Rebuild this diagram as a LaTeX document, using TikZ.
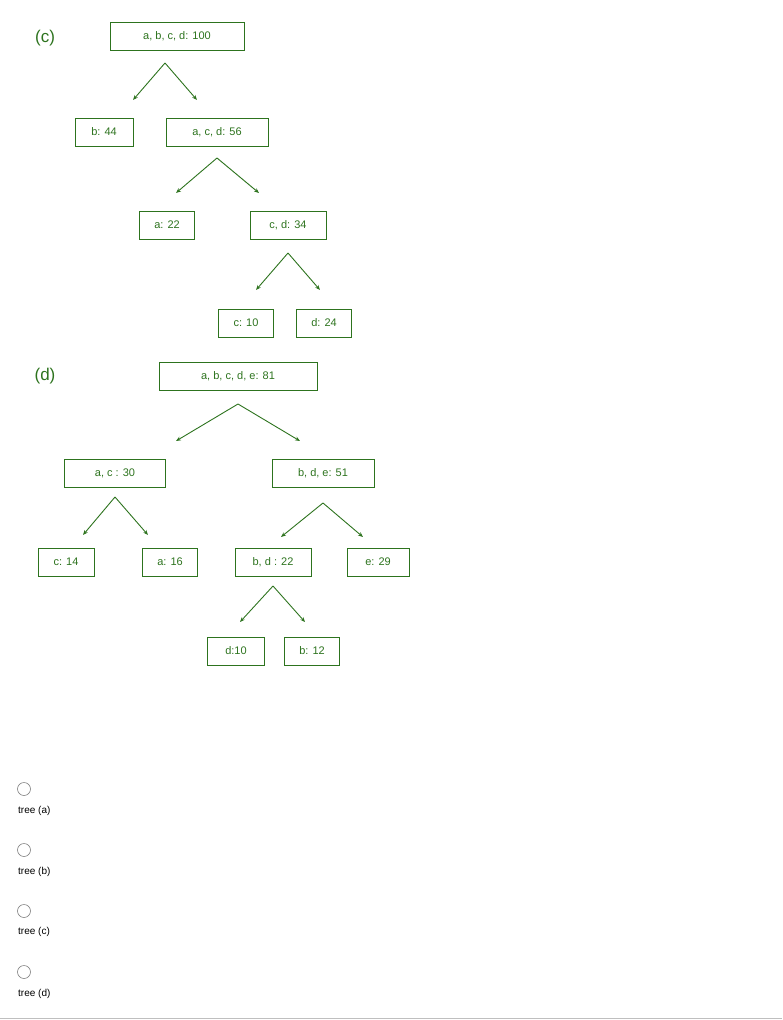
\documentclass[tikz,border=0pt]{standalone}
\usepackage{fontspec}
\setmainfont{Liberation Sans}
\usetikzlibrary{arrows.meta}
\definecolor{tg}{RGB}{45,115,30}
\begin{document}
\begin{tikzpicture}[x=1pt,y=-1pt,
  bx/.style={draw=tg,line width=1pt,text=tg,font=\fontsize{11}{13}\selectfont,minimum height=28pt,inner xsep=5pt},
  ar/.style={draw=tg,line width=0.9pt,-{Stealth[length=5pt,width=4pt]}},
  lab/.style={text=tg,font=\fontsize{17}{20}\selectfont},
  opt/.style={font=\fontsize{10}{12}\selectfont,anchor=west,inner sep=0pt},
  rb/.style={draw=gray,line width=0.6pt,circle,minimum size=13pt,inner sep=0pt}]
\useasboundingbox (0,0) rectangle (782,1020);
\node[lab] (lc) at (45,38) {(c)};
\node[bx,minimum width=134pt] (r1) at (177,36) {a, b, c, d: 100};
\node[bx,minimum width=58pt] (b44) at (104,132) {b: 44};
\node[bx,minimum width=102pt] (acd) at (217,132) {a, c, d: 56};
\node[bx,minimum width=55pt] (a22) at (167,225) {a: 22};
\node[bx,minimum width=76pt] (cd) at (288,225) {c, d: 34};
\node[bx,minimum width=55pt] (c10) at (246,323) {c: 10};
\node[bx,minimum width=55pt] (d24) at (324,323) {d: 24};
\node[lab] (ld) at (45,376) {(d)};
\node[bx,minimum width=158pt] (r2) at (238,376) {a, b, c, d, e: 81};
\node[bx,minimum width=101pt] (ac) at (115,473) {a, c : 30};
\node[bx,minimum width=102pt] (bde) at (323,473) {b, d, e: 51};
\node[bx,minimum width=56pt] (c14) at (66,562) {c: 14};
\node[bx,minimum width=55pt] (a16) at (170,562) {a: 16};
\node[bx,minimum width=76pt] (bd) at (273,562) {b, d : 22};
\node[bx,minimum width=62pt] (e29) at (378,562) {e: 29};
\node[bx,minimum width=57pt] (d10) at (236,651) {d:10};
\node[bx,minimum width=55pt] (b12) at (312,651) {b: 12};
% apexes
\coordinate (p1) at (165,63); \coordinate (p1l) at (133,100); \coordinate (p1r) at (197,100);
\coordinate (p2) at (217,158); \coordinate (p2l) at (176,193); \coordinate (p2r) at (259,193);
\coordinate (p3) at (288,253); \coordinate (p3l) at (256,290); \coordinate (p3r) at (320,290);
\coordinate (p4) at (238,404); \coordinate (p4l) at (176,441); \coordinate (p4r) at (300,441);
\coordinate (p5) at (115,497); \coordinate (p5l) at (83,535); \coordinate (p5r) at (148,535);
\coordinate (p6) at (323,503); \coordinate (p6l) at (281,537); \coordinate (p6r) at (363,537);
\coordinate (p7) at (273,586); \coordinate (p7l) at (240,622); \coordinate (p7r) at (305,622);
\foreach \p in {p1,p2,p3,p4,p5,p6,p7}{
  \draw[ar] (\p) -- (\p l);
  \draw[ar] (\p) -- (\p r);
}
\node[rb] (o1) at (24,789) {};
\node[opt] (t1) at (18,811) {tree (a)};
\node[rb] (o2) at (24,850) {};
\node[opt] (t2) at (18,872) {tree (b)};
\node[rb] (o3) at (24,911) {};
\node[opt] (t3) at (18,932) {tree (c)};
\node[rb] (o4) at (24,972) {};
\node[opt] (t4) at (18,994) {tree (d)};
\draw[gray!50,line width=0.8pt] (0,1018) -- (782,1018);
\end{tikzpicture}
\end{document}
